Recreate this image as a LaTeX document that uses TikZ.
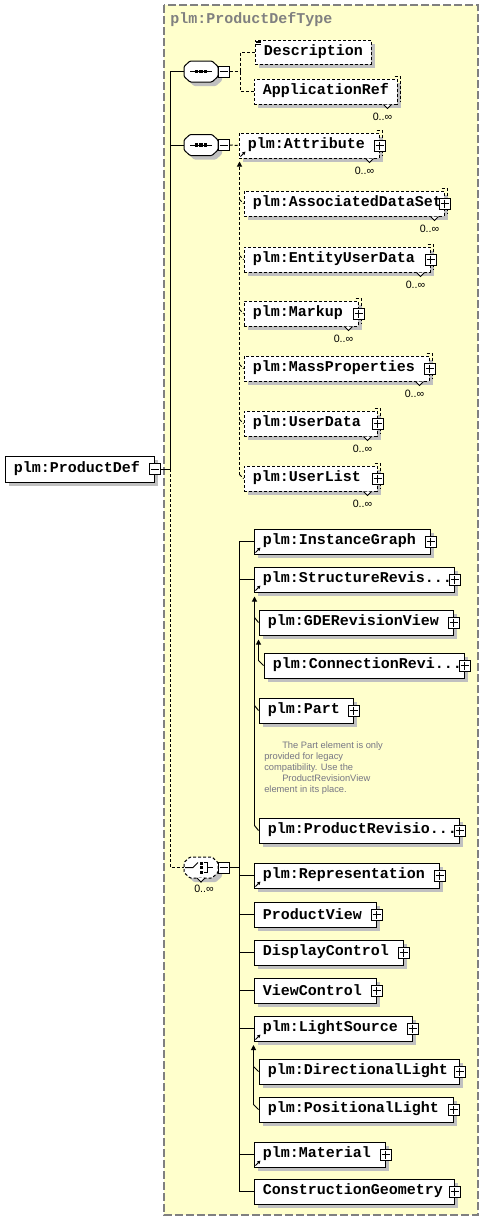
\documentclass[tikz,border=0pt]{standalone}
\usepackage{fontspec}
\setmainfont{Liberation Sans}
\setmonofont{Liberation Mono}
\usetikzlibrary{arrows.meta}
\definecolor{yel}{RGB}{255,255,204}
\definecolor{shd}{RGB}{192,192,192}
\definecolor{brd}{RGB}{128,128,128}
\definecolor{ann}{RGB}{118,118,132}
\tikzset{
  ln/.style={line width=0.75pt},
  dl/.style={line width=0.75pt,dash pattern=on 2.25pt off 1.5pt},
  ebox/.style={draw,fill=white,line width=0.75pt,inner sep=0pt,rectangle},
  dbox/.style={dash pattern=on 2.25pt off 1.5pt},
  lbl/.style={font=\ttfamily\bfseries\fontsize{11.25}{12}\selectfont,inner sep=0pt,anchor=west},
  ttl/.style={font=\ttfamily\bfseries\fontsize{11.25}{12}\selectfont,inner sep=0pt,anchor=west,text=brd},
  mult/.style={font=\fontsize{8}{9}\selectfont,inner sep=0pt,anchor=east},
  pbx/.style={draw,fill=white,line width=0.75pt,minimum size=8.25pt,inner sep=0pt,rectangle},
  octn/.style={inner sep=0pt,minimum width=25.5pt,minimum height=15.75pt,rectangle},
  upar/.style={-{Triangle[length=3.75pt,width=3.75pt]}},
  ann/.style={font=\fontsize{7}{8.25}\selectfont,text=ann,inner sep=0pt,align=left,anchor=north west}
}
% element box: [opts]{name}{x1}{y1}{x2}{y2}{text}
\newcommand\elbox[7][]{%
  \fill[shd] (#3+4,#4+4) rectangle (#5+4,#6+4);
  \node[ebox,#1,minimum width={(#5-#3)*0.75pt},minimum height={(#6-#4)*0.75pt}] (#2) at ({(#3+#5)/2},{(#4+#6)/2}) {};
  \node[lbl] (#2-t) at ([xshift=6.75pt,yshift=0.6pt]#2.west) {#7};}
\newcommand\plusb[1]{%
  \node[pbx] (#1-p) at (#1.east) {};
  \draw[ln] ([xshift=1.5pt]#1-p.west) -- ([xshift=-1.5pt]#1-p.east)
            ([yshift=-1.5pt]#1-p.north) -- ([yshift=1.5pt]#1-p.south);}
\newcommand\minusb[1]{%
  \node[pbx] (#1-m) at ([xshift=4.1pt]#1.east) {};
  \draw[ln] ([xshift=1.5pt]#1-m.west) -- ([xshift=-1.5pt]#1-m.east);}
\newcommand\stk[1]{%
  \draw[dl] ([shift={(-3,-2)}]#1.north east) -- ++(6,0) -- ([shift={(3,-3)}]#1.south east);
  \filldraw[ln,fill=white] ([shift={(-14,0)}]#1.south east) -- ++(4,4) -- ++(4,-4);
  \node[mult] (#1-mu) at ([shift={(-5,12)}]#1.south east) {0..∞};}
\newcommand\refic[1]{%
  \draw[ln,-{Triangle[length=2.5pt,width=2.5pt]}] ([shift={(2,-2)}]#1.south west) -- ++(5,-5);}
\newcommand\octpath{(-17,-5) -- (-11,-10.5) -- (11,-10.5) -- (17,-5) -- (17,5) -- (11,10.5) -- (-11,10.5) -- (-17,5) -- cycle}
% octagon compositor: [opts]{name}{cx}{cy}
\newcommand\octo[4][]{%
  \fill[shd,shift={(#3+4,#4+4)},rounded corners=0.8pt] \octpath;
  \node[octn] (#2) at (#3,#4) {};
  \draw[ln,fill=white,shift={(#3,#4)},rounded corners=0.8pt,#1] \octpath;}
\newcommand\seqic[1]{%
  \draw[ln] ([xshift=-8.25pt]#1.center) -- ([xshift=8.25pt]#1.center);
  \foreach \d in {-4.5,0,4.5} \fill ([shift={(\d-1.6,-1.6)}]#1.center) rectangle ++(3.2,3.2);}
\begin{document}
\begin{tikzpicture}[x=0.75pt,y=-0.75pt]
\useasboundingbox (0,0) rectangle (484,1222);
% type region
\draw[brd,fill=yel,line width=1.1pt,dash pattern=on 6pt off 2.25pt] (164,5) rectangle (478,1215);
\node[ttl] (title) at (170,20) {plm:ProductDefType};

% root
\elbox{root}{5}{456}{154}{482}{plm:ProductDef}
\node[pbx] (root-m) at (root.east) {};
\draw[ln] ([xshift=1.5pt]root-m.west) -- ([xshift=-1.5pt]root-m.east);

% sequence 1
\octo{seq1}{201}{71.5}
\seqic{seq1}
\minusb{seq1}
% sequence 2
\octo{seq2}{201}{145}
\seqic{seq2}
\minusb{seq2}
% choice
\filldraw[ln,fill=white] (197,878) -- (201,882) -- (205,878);
\octo[dash pattern=on 2.25pt off 1.5pt]{choice}{201}{867.5}
\draw[ln] (185,867.5) -- (193,867.5) -- (198,862.5);
\foreach \yy in {861.5,866,870.5} \fill (200,\yy) rectangle ++(3,3);
\draw[ln] (203.5,862.5) -- (207,862.5) -- (207,872.5) -- (203.5,872.5) (207,867.5) -- (213,867.5);
\filldraw[ln,fill=white] (197,878) -- (201,882) -- (205,878);
\node[mult] (choice-mu) at (214,889) {0..∞};
\minusb{choice}

% sequence 1 children
\elbox[dbox]{desc}{255}{40}{371}{64}{Description}
\draw[line width=0.6pt] (256,41.2) -- (261,41.2) (256,42.8) -- (261,42.8) (256,44.4) -- (261,44.4);
\elbox[dbox]{appref}{254}{79}{397}{104}{ApplicationRef}
\stk{appref}

% substitution group plm:Attribute
\elbox[dbox]{attr}{239}{133}{379}{158}{plm:Attribute}
\stk{attr}\plusb{attr}\refic{attr}
\elbox[dbox]{ads}{244}{191}{444}{216}{plm:AssociatedDataSet}
\stk{ads}\plusb{ads}
\elbox[dbox]{eud}{244}{247}{430}{272}{plm:EntityUserData}
\stk{eud}\plusb{eud}
\elbox[dbox]{markup}{244}{301}{358}{326}{plm:Markup}
\stk{markup}\plusb{markup}
\elbox[dbox]{massp}{244}{356}{429}{381}{plm:MassProperties}
\stk{massp}\plusb{massp}
\elbox[dbox]{udata}{244}{411}{377}{436}{plm:UserData}
\stk{udata}\plusb{udata}
\elbox[dbox]{ulist}{244}{466}{377}{491}{plm:UserList}
\stk{ulist}\plusb{ulist}

% choice children
\elbox{inst}{254}{529}{430}{554}{plm:InstanceGraph}
\plusb{inst}\refic{inst}
\elbox{strev}{254}{567}{454}{592}{plm:StructureRevis...}
\plusb{strev}\refic{strev}
\elbox{gde}{259}{610}{453}{635}{plm:GDERevisionView}
\plusb{gde}
\elbox{conn}{264}{653}{464}{678}{plm:ConnectionRevi...}
\plusb{conn}
\elbox{part}{259}{698}{353}{723}{plm:Part}
\plusb{part}
\node[ann] (note) at (264,741) {\hspace*{13.5pt}The Part element is only\\provided for legacy\\compatibility. Use the\\\hspace*{13.5pt}ProductRevisionView\\element in its place.};
\elbox{prodrev}{259}{818}{459}{843}{plm:ProductRevisio...}
\plusb{prodrev}
\elbox{repr}{254}{863}{439}{888}{plm:Representation}
\plusb{repr}\refic{repr}
\elbox{pview}{254}{902}{376}{927}{ProductView}
\plusb{pview}
\elbox{dctrl}{254}{940}{403}{965}{DisplayControl}
\plusb{dctrl}
\elbox{vctrl}{254}{978}{376}{1003}{ViewControl}
\plusb{vctrl}
\elbox{light}{254}{1016}{412}{1041}{plm:LightSource}
\plusb{light}\refic{light}
\elbox{dirl}{259}{1059}{459}{1084}{plm:DirectionalLight}
\plusb{dirl}
\elbox{posl}{259}{1097}{453}{1122}{plm:PositionalLight}
\plusb{posl}
\elbox{mat}{254}{1142}{385}{1167}{plm:Material}
\plusb{mat}\refic{mat}
\elbox{cgeo}{254}{1179}{454}{1204}{ConstructionGeometry}
\plusb{cgeo}

% root connectors
\coordinate (t0) at (170,469);
\coordinate (t1) at (170,71.5);
\draw[ln] (root-m.east) -- (t0) -- (t1) -- (seq1.west);
\draw[ln] (seq2.west -| t0) -- (seq2.west);
\draw[dl] (t0) |- (choice.west);

% sequence 1 connectors
\coordinate (s1j) at (240,71.5);
\draw[dl] (seq1-m.east) -- (s1j);
\draw[dl] (desc.west) -| (s1j);
\draw[dl] (appref.west) -| (s1j);
% sequence 2 connector
\draw[dl] (seq2-m.east) -- (attr.west);
% substitution group of plm:Attribute
\coordinate (sga) at ([shift={(1,3)}]attr.south west);
\draw[dl,upar] ([shift={(-4,-4)}]ulist.west) -- (sga);
\foreach \m in {ads,eud,markup,massp,udata,ulist}
  \draw[dl] ([shift={(-4,-4)}]\m.west) -- (\m.west);

% choice connectors
\coordinate (ct) at (239,867.5);
\draw[ln] (choice-m.east) -- (ct);
\draw[ln] (inst.west -| ct) -- (cgeo.west -| ct);
\foreach \m in {inst,strev,repr,pview,dctrl,vctrl,light,mat,cgeo}
  \draw[ln] (\m.west -| ct) -- (\m.west);

% substitution group of plm:StructureRevisionView
\coordinate (sgs) at ([shift={(1,4)}]strev.south west);
\draw[ln,upar] ([shift={(-4,-5)}]prodrev.west) -- (sgs);
\foreach \m in {gde,part,prodrev}
  \draw[ln] ([shift={(-4,-5)}]\m.west) -- (\m.west);
% substitution group of plm:GDERevisionView
\coordinate (sgg) at ([shift={(0,4)}]gde.south west);
\draw[ln,upar] ([shift={(-5,-5)}]conn.west) -- (sgg);
\draw[ln] ([shift={(-5,-5)}]conn.west) -- (conn.west);
% substitution group of plm:LightSource
\coordinate (sgl) at ([shift={(0,3.5)}]light.south west);
\draw[ln,upar] ([shift={(-5,-5)}]posl.west) -- (sgl);
\foreach \m in {dirl,posl}
  \draw[ln] ([shift={(-5,-5)}]\m.west) -- (\m.west);
\end{tikzpicture}
\end{document}
